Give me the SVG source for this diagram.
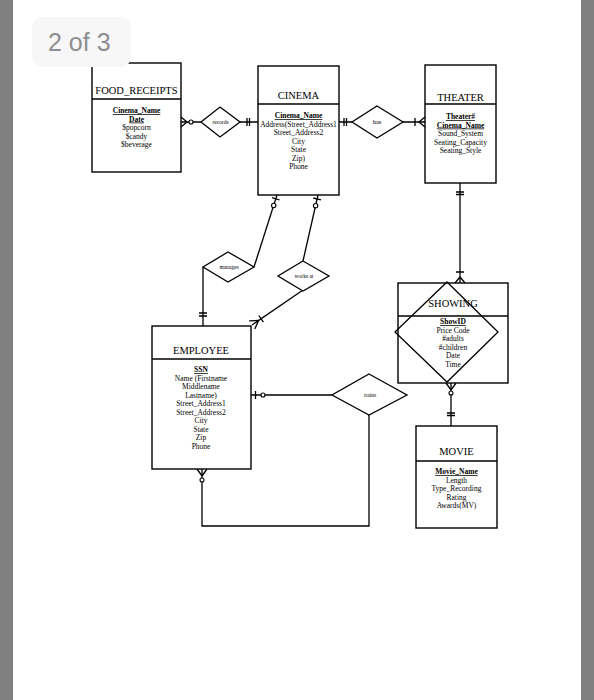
<svg xmlns="http://www.w3.org/2000/svg" width="594" height="700" viewBox="0 0 594 700">
<style>
.box{fill:none;stroke:#000;stroke-width:1.4}
.ln{fill:none;stroke:#000;stroke-width:1.3}
.dia{fill:#fff;stroke:#000;stroke-width:1.3}
.t{font-family:"Liberation Serif",serif;font-size:10.5px;text-anchor:middle;fill:#000}
.a{font-family:"Liberation Serif",serif;font-size:7.5px;text-anchor:middle;fill:#000}
.k{font-weight:bold;text-decoration:underline}
.d{font-family:"Liberation Serif",serif;font-size:5.5px;text-anchor:middle;fill:#000}
.c{fill:#fff;stroke:#000;stroke-width:1.1}
</style>
<rect x="0" y="0" width="594" height="700" fill="#fff"/>
<rect x="0" y="0" width="13" height="700" fill="#808080"/>
<rect x="581" y="0" width="13" height="700" fill="#808080"/>

<g id="connectors">
<!-- FOOD_RECEIPTS - records - CINEMA -->
<path class="ln" d="M181,122 H201 M240,122 H258"/>
<path class="ln" d="M187,122 L181,117 M187,122 L181,127"/>
<circle class="c" cx="191" cy="122" r="2"/>
<path class="ln" d="M247,118 V126 M249.5,118 V126"/>
<!-- CINEMA - has - THEATER -->
<path class="ln" d="M339,122 H352 M403,122 H425"/>
<path class="ln" d="M344,118 V126 M346.5,118 V126"/>
<path class="ln" d="M415,118 V126 M419,122 L425,117 M419,122 L425,127"/>
<!-- THEATER - SHOWING -->
<path class="ln" d="M460,183 V283"/>
<path class="ln" d="M456,192 H464 M456,194.5 H464"/>
<path class="ln" d="M456,272 H464 M460,277 L455,283 M460,277 L465,283"/>
<!-- SHOWING - MOVIE -->
<path class="ln" d="M451,383 V426"/>
<path class="ln" d="M451,390 L446,383 M451,390 L456,383"/>
<circle class="c" cx="451" cy="393" r="2"/>
<path class="ln" d="M447,413 H455 M447,415.5 H455"/>
<!-- CINEMA - manages - EMPLOYEE -->
<path class="ln" d="M277,195 L254,267"/>
<path class="ln" d="M279.6,200 L272,197.6"/>
<circle class="c" cx="273.7" cy="205.5" r="2.2"/>
<path class="ln" d="M203,267 V326"/>
<path class="ln" d="M199,313 H207 M199,316 H207"/>
<!-- CINEMA - works at - EMPLOYEE -->
<path class="ln" d="M318,195 L303,261"/>
<path class="ln" d="M321,199.8 L313.2,198"/>
<circle class="c" cx="315.6" cy="205.7" r="2.2"/>
<path class="ln" d="M303,290 L252,325"/>
<path class="ln" d="M258.6,320.5 L254.8,329.1 M258.6,320.5 L249.2,320.9 M263.4,322.1 L258.8,315.5"/>
<!-- EMPLOYEE - trains - EMPLOYEE -->
<path class="ln" d="M251,395 H332"/>
<path class="ln" d="M255.5,391 V399"/>
<circle class="c" cx="263" cy="395" r="2"/>
<path class="ln" d="M369,415 V526 H202 V469"/>
<path class="ln" d="M202,476 L197,469 M202,476 L207,469"/>
<circle class="c" cx="202" cy="480" r="2"/>
</g>

<g id="food_receipts">
<rect class="box" x="92" y="63" width="89" height="109"/>
<line class="box" x1="92" y1="99" x2="181" y2="99"/>
<text class="t" x="136.5" y="94">FOOD_RECEIPTS</text>
<text class="a k" x="136.5" y="113">Cinema_Name</text>
<text class="a k" x="136.5" y="121.5">Date</text>
<text class="a" x="136.5" y="130">$popcorn</text>
<text class="a" x="136.5" y="138.5">$candy</text>
<text class="a" x="136.5" y="147">$beverage</text>
</g>

<g id="records">
<polygon class="dia" points="220,107 240,122 220,137 201,122"/>
<text class="d" x="220.5" y="124">records</text>
</g>

<g id="cinema">
<rect class="box" x="258" y="66" width="81" height="129"/>
<line class="box" x1="258" y1="104" x2="339" y2="104"/>
<text class="t" x="298.5" y="99">CINEMA</text>
<text class="a k" x="298.5" y="118">Cinema_Name</text>
<text class="a" x="298.5" y="126.5">Address(Street_Address1</text>
<text class="a" x="298.5" y="135">Street_Address2</text>
<text class="a" x="298.5" y="143.5">City</text>
<text class="a" x="298.5" y="152">State</text>
<text class="a" x="298.5" y="160.5">Zip)</text>
<text class="a" x="298.5" y="169">Phone</text>
</g>

<g id="has">
<polygon class="dia" points="377,106 403,122 377,138 352,122"/>
<text class="d" x="377" y="124" style="font-size:6.5px">has</text>
</g>

<g id="theater">
<rect class="box" x="425" y="65" width="71" height="118"/>
<line class="box" x1="425" y1="104" x2="496" y2="104"/>
<text class="t" x="460.5" y="101">THEATER</text>
<text class="a k" x="460.5" y="119">Theater#</text>
<text class="a k" x="460.5" y="127.5">Cinema_Name</text>
<text class="a" x="460.5" y="136">Sound_System</text>
<text class="a" x="460.5" y="144.5">Seating_Capacity</text>
<text class="a" x="460.5" y="153">Seating_Style</text>
</g>

<g id="manages">
<polygon class="dia" points="228,252 254,267 228,282 203,267"/>
<text class="d" x="229" y="269">manages</text>
</g>

<g id="works_at">
<polygon class="dia" points="303,261 329,276 303,291 278,276"/>
<text class="d" x="304" y="278">works at</text>
</g>

<g id="showing">
<rect class="box" x="398" y="283" width="110" height="100"/>
<line class="box" x1="398" y1="316" x2="508" y2="316"/>
<text class="t" x="453" y="307">SHOWING</text>
<polygon class="ln" points="447,282 498,332 447,382 395,332"/>
<text class="a k" x="453" y="324">ShowID</text>
<text class="a" x="453" y="332.5">Price Code</text>
<text class="a" x="453" y="341">#adults</text>
<text class="a" x="453" y="349.5">#children</text>
<text class="a" x="453" y="358">Date</text>
<text class="a" x="453" y="366.5">Time</text>
</g>

<g id="employee">
<rect class="box" x="152" y="326" width="99" height="143"/>
<line class="box" x1="152" y1="359" x2="251" y2="359"/>
<text class="t" x="201" y="354">EMPLOYEE</text>
<text class="a k" x="201" y="372">SSN</text>
<text class="a" x="201" y="380.5">Name (Firstname</text>
<text class="a" x="201" y="389">Middlename</text>
<text class="a" x="201" y="397.5">Lastname)</text>
<text class="a" x="201" y="406">Street_Address1</text>
<text class="a" x="201" y="414.5">Street_Address2</text>
<text class="a" x="201" y="423">City</text>
<text class="a" x="201" y="431.5">State</text>
<text class="a" x="201" y="440">Zip</text>
<text class="a" x="201" y="448.5">Phone</text>
</g>

<g id="trains">
<polygon class="dia" points="369,374 407,395 369,415 332,395"/>
<text class="d" x="370" y="397">trains</text>
</g>

<g id="movie">
<rect class="box" x="416" y="426" width="81" height="102"/>
<line class="box" x1="416" y1="461" x2="497" y2="461"/>
<text class="t" x="456.5" y="455">MOVIE</text>
<text class="a k" x="456.5" y="474">Movie_Name</text>
<text class="a" x="456.5" y="482.5">Length</text>
<text class="a" x="456.5" y="491">Type_Recording</text>
<text class="a" x="456.5" y="499.5">Rating</text>
<text class="a" x="456.5" y="508">Awards(MV)</text>
</g>

<g id="badge">
<rect x="32" y="17" width="99" height="50" rx="10" fill="#f7f7f8"/>
<text x="48" y="51" style="font-family:'Liberation Sans',sans-serif;font-size:25px;fill:#8e8e8e">2 of 3</text>
</g>
</svg>
